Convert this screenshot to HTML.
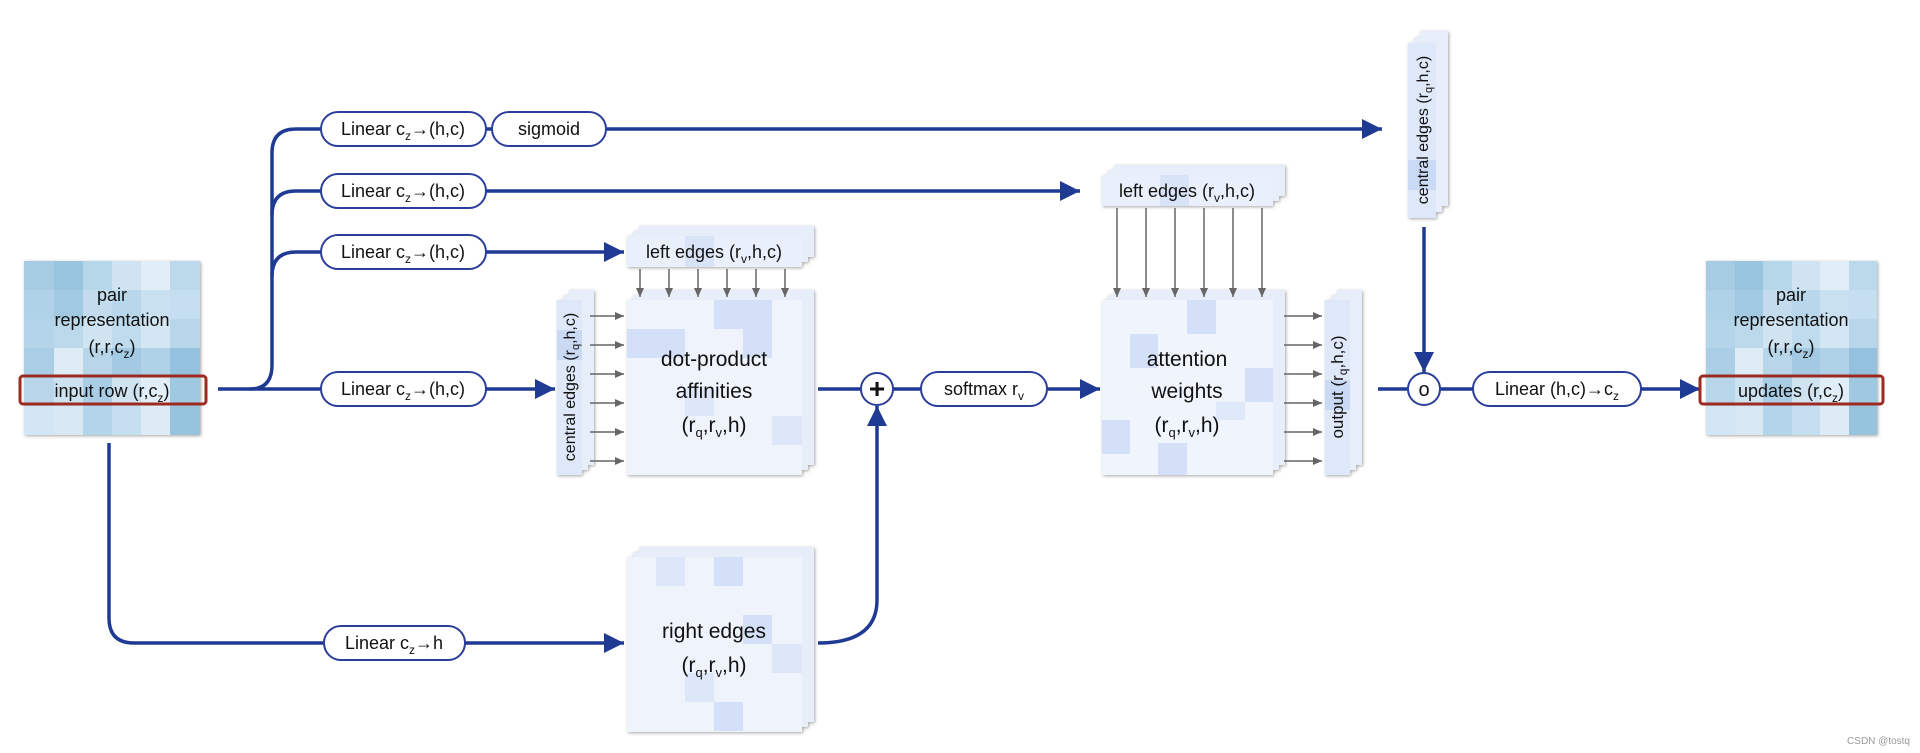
<!DOCTYPE html>
<html><head><meta charset="utf-8"><style>
html,body{margin:0;padding:0;background:#fff;}
svg{display:block;font-family:"Liberation Sans",sans-serif;}
</style></head><body>
<svg width="1920" height="753" viewBox="0 0 1920 753" xmlns="http://www.w3.org/2000/svg">
<defs>
<marker id="bb" markerWidth="22" markerHeight="20" refX="20" refY="10" orient="auto" markerUnits="userSpaceOnUse"><path d="M0,0 L20,10 L0,20 z" fill="#1f3a93"/></marker>
<marker id="ga" markerWidth="10" markerHeight="10" refX="9" refY="5" orient="auto" markerUnits="userSpaceOnUse"><path d="M0,1 L9,5 L0,9 z" fill="#666"/></marker>
<filter id="sh" x="-10%" y="-10%" width="130%" height="130%"><feDropShadow dx="1" dy="1" stdDeviation="1.5" flood-color="#000" flood-opacity="0.35"/></filter>
</defs>

<g fill="none" stroke="#1f3a93" stroke-width="3.5">
<path d="M218 389 L321 389"/>
<path d="M250 389 Q272 389 272 365 L272 153 Q272 129 296 129 L321 129"/>
<path d="M272 215 Q272 191 296 191 L321 191"/>
<path d="M272 276 Q272 252 296 252 L321 252"/>
<path d="M486 129 L492 129"/>
<path d="M606 129 L1382 129" marker-end="url(#bb)"/>
<path d="M486 191 L1080 191" marker-end="url(#bb)"/>
<path d="M486 252 L624 252" marker-end="url(#bb)"/>
<path d="M486 389 L555 389" marker-end="url(#bb)"/>
<path d="M818 389 L861 389"/>
<path d="M893 389 L921 389"/>
<path d="M1047 389 L1100 389" marker-end="url(#bb)"/>
<path d="M1378 389 L1408 389"/>
<path d="M1440 389 L1473 389"/>
<path d="M1641 389 L1700 389" marker-end="url(#bb)"/>
<path d="M1424 227 L1424 372" marker-end="url(#bb)"/>
<path d="M109 443 L109 618 Q109 643 134 643 L324 643"/>
<path d="M465 643 L624 643" marker-end="url(#bb)"/>
<path d="M818 643 Q877 643 877 600 L877 406" marker-end="url(#bb)"/>
</g>

<g fill="#fff" stroke="#2b3f9a" stroke-width="2">
<rect x="321" y="112" width="165" height="34" rx="17"/>
<rect x="492" y="112" width="114" height="34" rx="17"/>
<rect x="321" y="174" width="165" height="34" rx="17"/>
<rect x="321" y="235" width="165" height="34" rx="17"/>
<rect x="321" y="372" width="165" height="34" rx="17"/>
<rect x="324" y="626" width="141" height="34" rx="17"/>
<rect x="921" y="372" width="126" height="34" rx="17"/>
<rect x="1473" y="372" width="168" height="34" rx="17"/>
<circle cx="877" cy="389" r="16"/>
<circle cx="1424" cy="389" r="16"/>
</g>
<g font-size="18" fill="#111" text-anchor="middle">
<text x="403" y="135">Linear c<tspan font-size="12" dy="5">z</tspan><tspan dy="-5">→(h,c)</tspan></text>
<text x="549" y="135">sigmoid</text>
<text x="403" y="197">Linear c<tspan font-size="12" dy="5">z</tspan><tspan dy="-5">→(h,c)</tspan></text>
<text x="403" y="258">Linear c<tspan font-size="12" dy="5">z</tspan><tspan dy="-5">→(h,c)</tspan></text>
<text x="403" y="395">Linear c<tspan font-size="12" dy="5">z</tspan><tspan dy="-5">→(h,c)</tspan></text>
<text x="394" y="649">Linear c<tspan font-size="12" dy="5">z</tspan><tspan dy="-5">→h</tspan></text>
<text x="984" y="395">softmax r<tspan font-size="12" dy="5">v</tspan></text>
<text x="1557" y="395">Linear (h,c)→c<tspan font-size="12" dy="5">z</tspan></text>
<text x="877" y="398" font-size="28" font-weight="bold">+</text>
<text x="1424" y="396" font-size="20">o</text>
</g>

<g filter="url(#sh)"><rect x="24" y="261" width="176" height="174" fill="#b8d6ea"/></g>
<g>
<rect x="24" y="261" width="30" height="29" fill="#a6cce4"/><rect x="54" y="261" width="29" height="29" fill="#98c4df"/><rect x="83" y="261" width="29" height="29" fill="#b6d6ea"/><rect x="112" y="261" width="29" height="29" fill="#cfe3f1"/><rect x="141" y="261" width="29" height="29" fill="#e1eef7"/><rect x="170" y="261" width="30" height="29" fill="#bcd9ec"/>
<rect x="24" y="290" width="30" height="29" fill="#b0d2e8"/><rect x="54" y="290" width="29" height="29" fill="#a2c9e2"/><rect x="83" y="290" width="29" height="29" fill="#c2dcee"/><rect x="112" y="290" width="29" height="29" fill="#b9d7eb"/><rect x="141" y="290" width="29" height="29" fill="#c8e0f0"/><rect x="170" y="290" width="30" height="29" fill="#c5def0"/>
<rect x="24" y="319" width="30" height="29" fill="#b4d4e9"/><rect x="54" y="319" width="29" height="29" fill="#bcd9ec"/><rect x="83" y="319" width="29" height="29" fill="#cfe3f1"/><rect x="112" y="319" width="29" height="29" fill="#c0dbed"/><rect x="141" y="319" width="29" height="29" fill="#d3e6f3"/><rect x="170" y="319" width="30" height="29" fill="#b8d6ea"/>
<rect x="24" y="348" width="30" height="29" fill="#a9cee5"/><rect x="54" y="348" width="29" height="29" fill="#deecf6"/><rect x="83" y="348" width="29" height="29" fill="#b8d6ea"/><rect x="112" y="348" width="29" height="29" fill="#a4cae3"/><rect x="141" y="348" width="29" height="29" fill="#b0d2e8"/><rect x="170" y="348" width="30" height="29" fill="#94c2de"/>
<rect x="24" y="377" width="30" height="29" fill="#b7d6ea"/><rect x="54" y="377" width="29" height="29" fill="#cde2f1"/><rect x="83" y="377" width="29" height="29" fill="#a8cde5"/><rect x="112" y="377" width="29" height="29" fill="#cfe3f1"/><rect x="141" y="377" width="29" height="29" fill="#e2eef7"/><rect x="170" y="377" width="30" height="29" fill="#9fc8e1"/>
<rect x="24" y="406" width="30" height="29" fill="#d4e6f3"/><rect x="54" y="406" width="29" height="29" fill="#d7e8f4"/><rect x="83" y="406" width="29" height="29" fill="#b4d4e9"/><rect x="112" y="406" width="29" height="29" fill="#c6dff0"/><rect x="141" y="406" width="29" height="29" fill="#dcebf5"/><rect x="170" y="406" width="30" height="29" fill="#96c3de"/>
</g>
<rect x="20" y="376" width="186" height="28" fill="none" stroke="#9c2a20" stroke-width="3" rx="3"/>
<g font-size="18" fill="#111" text-anchor="middle">
<text x="112" y="301">pair</text>
<text x="112" y="326">representation</text>
<text x="112" y="353">(r,r,c<tspan font-size="12" dy="5">z</tspan><tspan dy="-5">)</tspan></text>
<text x="112" y="397">input row (r,c<tspan font-size="12" dy="5">z</tspan><tspan dy="-5">)</tspan></text>
</g>

<g filter="url(#sh)"><rect x="1706" y="261" width="171" height="174" fill="#b8d6ea"/></g>
<g>
<rect x="1706" y="261" width="29" height="29" fill="#a6cce4"/><rect x="1735" y="261" width="28" height="29" fill="#98c4df"/><rect x="1763" y="261" width="29" height="29" fill="#b6d6ea"/><rect x="1792" y="261" width="28" height="29" fill="#cfe3f1"/><rect x="1820" y="261" width="29" height="29" fill="#e1eef7"/><rect x="1849" y="261" width="28" height="29" fill="#bcd9ec"/>
<rect x="1706" y="290" width="29" height="29" fill="#b0d2e8"/><rect x="1735" y="290" width="28" height="29" fill="#a2c9e2"/><rect x="1763" y="290" width="29" height="29" fill="#c2dcee"/><rect x="1792" y="290" width="28" height="29" fill="#b9d7eb"/><rect x="1820" y="290" width="29" height="29" fill="#c8e0f0"/><rect x="1849" y="290" width="28" height="29" fill="#c5def0"/>
<rect x="1706" y="319" width="29" height="29" fill="#b4d4e9"/><rect x="1735" y="319" width="28" height="29" fill="#bcd9ec"/><rect x="1763" y="319" width="29" height="29" fill="#cfe3f1"/><rect x="1792" y="319" width="28" height="29" fill="#c0dbed"/><rect x="1820" y="319" width="29" height="29" fill="#d3e6f3"/><rect x="1849" y="319" width="28" height="29" fill="#b8d6ea"/>
<rect x="1706" y="348" width="29" height="29" fill="#a9cee5"/><rect x="1735" y="348" width="28" height="29" fill="#deecf6"/><rect x="1763" y="348" width="29" height="29" fill="#b8d6ea"/><rect x="1792" y="348" width="28" height="29" fill="#a4cae3"/><rect x="1820" y="348" width="29" height="29" fill="#b0d2e8"/><rect x="1849" y="348" width="28" height="29" fill="#94c2de"/>
<rect x="1706" y="377" width="29" height="29" fill="#b7d6ea"/><rect x="1735" y="377" width="28" height="29" fill="#cde2f1"/><rect x="1763" y="377" width="29" height="29" fill="#a8cde5"/><rect x="1792" y="377" width="28" height="29" fill="#cfe3f1"/><rect x="1820" y="377" width="29" height="29" fill="#e2eef7"/><rect x="1849" y="377" width="28" height="29" fill="#9fc8e1"/>
<rect x="1706" y="406" width="29" height="29" fill="#d4e6f3"/><rect x="1735" y="406" width="28" height="29" fill="#d7e8f4"/><rect x="1763" y="406" width="29" height="29" fill="#b4d4e9"/><rect x="1792" y="406" width="28" height="29" fill="#c6dff0"/><rect x="1820" y="406" width="29" height="29" fill="#dcebf5"/><rect x="1849" y="406" width="28" height="29" fill="#96c3de"/>
</g>
<rect x="1700" y="376" width="183" height="28" fill="none" stroke="#9c2a20" stroke-width="3" rx="3"/>
<g font-size="18" fill="#111" text-anchor="middle">
<text x="1791" y="301">pair</text>
<text x="1791" y="326">representation</text>
<text x="1791" y="353">(r,r,c<tspan font-size="12" dy="5">z</tspan><tspan dy="-5">)</tspan></text>
<text x="1791" y="397">updates (r,c<tspan font-size="12" dy="5">z</tspan><tspan dy="-5">)</tspan></text>
</g>

<g filter="url(#sh)" fill="#e8eef9">
<rect x="639" y="290" width="175" height="175"/><rect x="633" y="295" width="175" height="175"/><rect x="627" y="300" width="175" height="175" fill="#eef3fc"/>
<rect x="639" y="547" width="175" height="175"/><rect x="633" y="552" width="175" height="175"/><rect x="627" y="557" width="175" height="175" fill="#eef3fc"/>
<rect x="1114" y="290" width="171" height="175"/><rect x="1108" y="295" width="171" height="175"/><rect x="1102" y="300" width="171" height="175" fill="#f0f5fd"/>
<rect x="639" y="226" width="175" height="31"/><rect x="633" y="231" width="175" height="31"/><rect x="627" y="236" width="175" height="31" fill="#eaf0fb"/>
<rect x="1114" y="165" width="171" height="31"/><rect x="1108" y="170" width="171" height="31"/><rect x="1102" y="175" width="171" height="31" fill="#eaf0fb"/>
<rect x="569" y="290" width="25" height="175"/><rect x="563" y="295" width="25" height="175"/><rect x="557" y="300" width="25" height="175" fill="#dfe8f8"/>
<rect x="1337" y="290" width="25" height="175"/><rect x="1331" y="295" width="25" height="175"/><rect x="1325" y="300" width="25" height="175" fill="#dfe8f8"/>
<rect x="1420" y="31" width="28" height="175"/><rect x="1414" y="37" width="28" height="175"/><rect x="1408" y="43" width="28" height="175" fill="#dfe8f8"/>
</g>
<g fill="#d3e0f7">
<rect x="656" y="329" width="29" height="29"/><rect x="714" y="300" width="58" height="29"/><rect x="627" y="329" width="29" height="29"/><rect x="743" y="329" width="29" height="29"/><rect x="685" y="387" width="29" height="29" fill="#dde7f9"/><rect x="772" y="416" width="30" height="29" fill="#dde7f9"/>
<rect x="656" y="557" width="29" height="29" fill="#dde7f9"/><rect x="714" y="557" width="29" height="29"/><rect x="743" y="615" width="29" height="29"/><rect x="685" y="673" width="29" height="29" fill="#dde7f9"/><rect x="714" y="702" width="29" height="29"/><rect x="772" y="644" width="30" height="29" fill="#dde7f9"/>
<rect x="1187" y="300" width="29" height="34"/><rect x="1130" y="334" width="28" height="34"/><rect x="1245" y="368" width="28" height="34"/><rect x="1102" y="420" width="28" height="34"/><rect x="1158" y="443" width="29" height="32"/><rect x="1216" y="402" width="29" height="18" fill="#e0e9fa"/>
<rect x="1408" y="160" width="28" height="30" fill="#cad9f4"/><rect x="557" y="330" width="25" height="30" fill="#cad9f4"/><rect x="1325" y="380" width="25" height="30" fill="#cad9f4"/>
<rect x="685" y="236" width="29" height="31" fill="#d8e3f8"/><rect x="1160" y="175" width="29" height="31" fill="#d8e3f8"/>
</g>

<g font-size="18" fill="#111" text-anchor="middle">
<text x="714" y="366" font-size="21">dot-product</text>
<text x="714" y="398" font-size="21">affinities</text>
<text x="714" y="432" font-size="21">(r<tspan font-size="13" dy="5">q</tspan><tspan dy="-5">,r</tspan><tspan font-size="13" dy="5">v</tspan><tspan dy="-5">,h)</tspan></text>
<text x="1187" y="366" font-size="21">attention</text>
<text x="1187" y="398" font-size="21">weights</text>
<text x="1187" y="432" font-size="21">(r<tspan font-size="13" dy="5">q</tspan><tspan dy="-5">,r</tspan><tspan font-size="13" dy="5">v</tspan><tspan dy="-5">,h)</tspan></text>
<text x="714" y="638" font-size="21">right edges</text>
<text x="714" y="672" font-size="21">(r<tspan font-size="13" dy="5">q</tspan><tspan dy="-5">,r</tspan><tspan font-size="13" dy="5">v</tspan><tspan dy="-5">,h)</tspan></text>
<text x="714" y="258" font-size="18">left edges (r<tspan font-size="12" dy="5">v</tspan><tspan dy="-5">,h,c)</tspan></text>
<text x="1187" y="197" font-size="18">left edges (r<tspan font-size="12" dy="5">v</tspan><tspan dy="-5">,h,c)</tspan></text>
<text transform="translate(575,387) rotate(-90)" font-size="16">central edges (r<tspan font-size="11" dy="4">q</tspan><tspan dy="-4">,h,c)</tspan></text>
<text transform="translate(1343,387) rotate(-90)" font-size="17">output (r<tspan font-size="12" dy="4">q</tspan><tspan dy="-4">,h,c)</tspan></text>
<text transform="translate(1428,130) rotate(-90)" font-size="16">central edges (r<tspan font-size="11" dy="4">q</tspan><tspan dy="-4">,h,c)</tspan></text>
</g>

<g stroke="#666" stroke-width="1.5" marker-end="url(#ga)">
<path d="M640 269 L640 297"/><path d="M669 269 L669 297"/><path d="M698 269 L698 297"/><path d="M727 269 L727 297"/><path d="M756 269 L756 297"/><path d="M785 269 L785 297"/>
<path d="M1117 208 L1117 297"/><path d="M1146 208 L1146 297"/><path d="M1175 208 L1175 297"/><path d="M1204 208 L1204 297"/><path d="M1233 208 L1233 297"/><path d="M1262 208 L1262 297"/>
<path d="M590 316 L624 316"/><path d="M590 345 L624 345"/><path d="M590 374 L624 374"/><path d="M590 403 L624 403"/><path d="M590 432 L624 432"/><path d="M590 461 L624 461"/>
<path d="M1284 316 L1322 316"/><path d="M1284 345 L1322 345"/><path d="M1284 374 L1322 374"/><path d="M1284 403 L1322 403"/><path d="M1284 432 L1322 432"/><path d="M1284 461 L1322 461"/>
</g>

<text x="1910" y="744" font-size="10" fill="#999" text-anchor="end">CSDN @tostq</text>
</svg>
</body></html>
